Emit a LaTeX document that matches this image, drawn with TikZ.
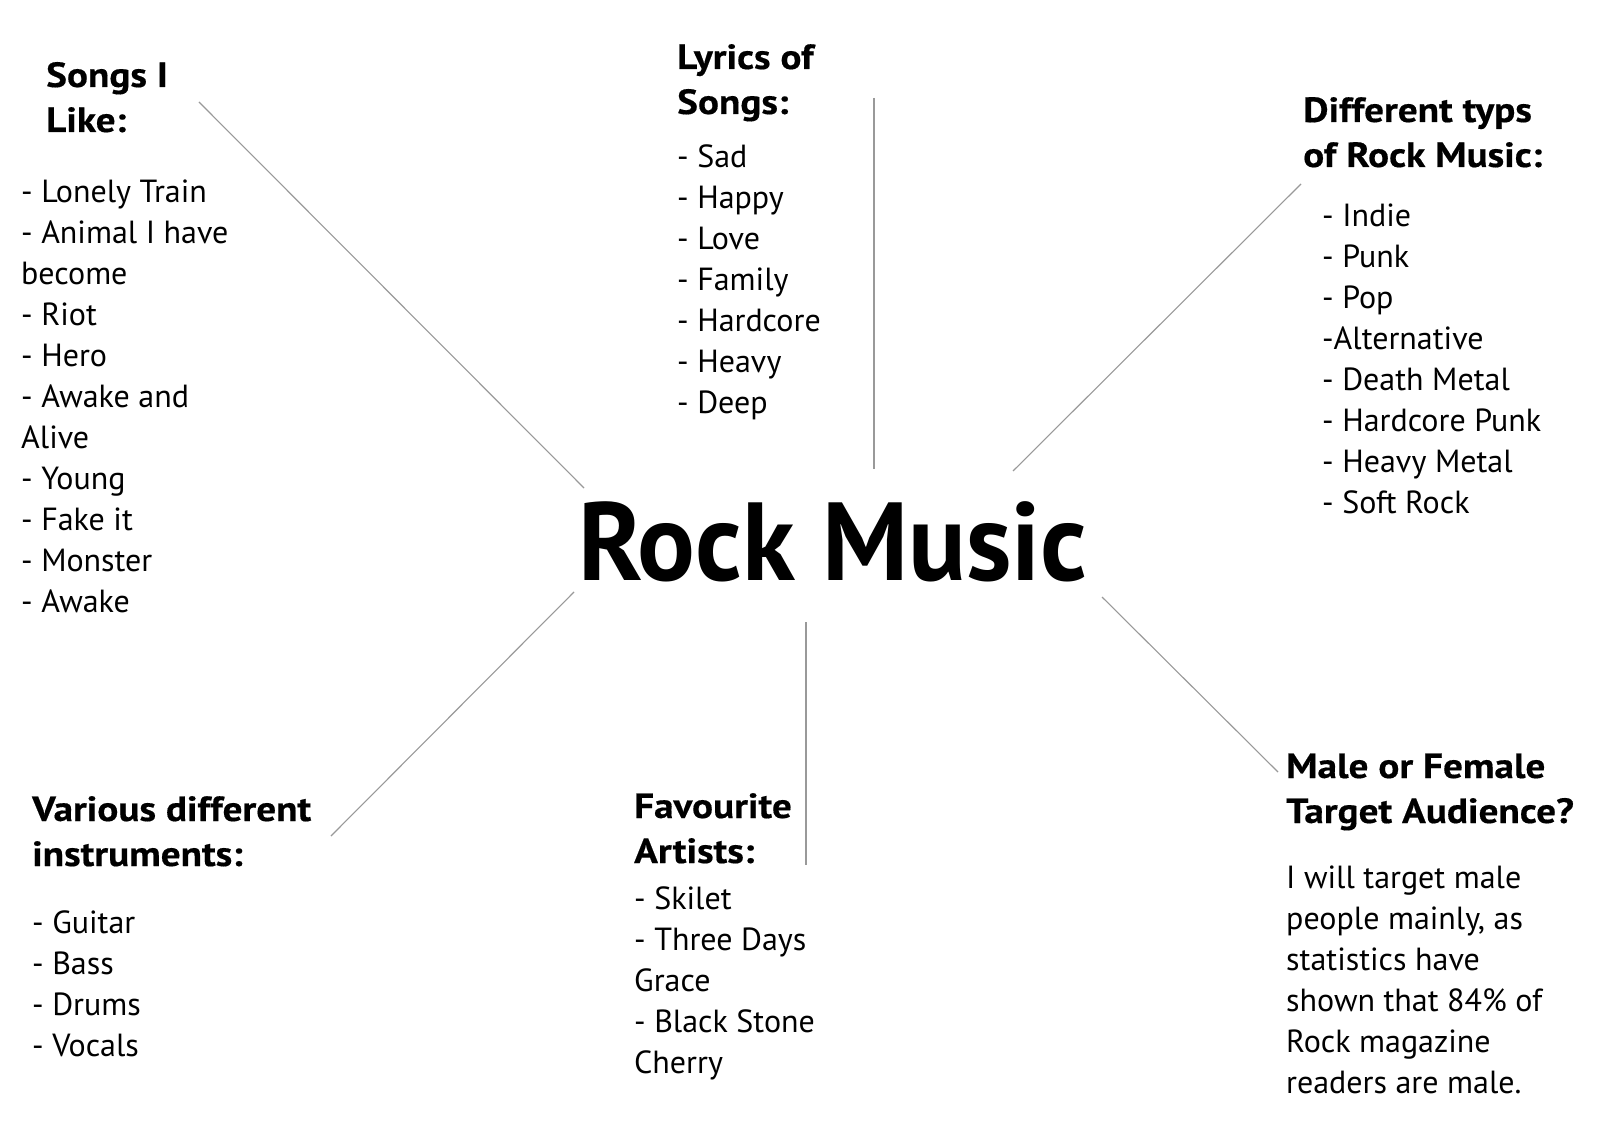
\documentclass[tikz,border=0pt]{standalone}
\usepackage{fontspec}
\setmainfont{PT Sans}
\newfontfamily\headfont[FakeStretch=1.12,FakeBold=0.4]{PT Sans Bold}
\newfontfamily\titlefont[FakeStretch=0.97]{PT Sans Bold}
\begin{document}
\begin{tikzpicture}[x=1pt,y=-1pt,
  body/.style={inner sep=0pt,anchor=base west,font=\fontsize{32}{41}\selectfont},
  head/.style={inner sep=0pt,anchor=base west,font=\headfont\fontsize{35}{45}\selectfont},
  title/.style={inner sep=0pt,anchor=base west,font=\titlefont\fontsize{111}{120}\selectfont},
  spoke/.style={draw=black!40,line width=1.1pt}]
\useasboundingbox[fill=white] (0,0) rectangle (1600,1131);
\newcommand{\blk}[1]{\begin{tabular}[t]{@{}l@{}}#1\end{tabular}}
% centre
\node[title] (rock) at (578,580) {Rock Music};
% Songs I like
\node[head] (songsH) at (46,87) {\blk{Songs I\\Like:}};
\node[body] (songsL) at (21,203) {\blk{- Lonely Train\\- Animal I have\\become\\- Riot\\- Hero\\- Awake and\\Alive\\- Young\\- Fake it\\- Monster\\- Awake}};
% Lyrics
\node[head] (lyrH) at (677,69) {\blk{Lyrics of\\Songs:}};
\node[body] (lyrL) at (677,168) {\blk{- Sad\\- Happy\\- Love\\- Family\\- Hardcore\\- Heavy\\- Deep}};
% Types
\node[head] (typH) at (1303,122) {\blk{Different typs\\of Rock Music:}};
\node[body] (typL) at (1322,227) {\blk{- Indie\\- Punk\\- Pop\\-Alternative\\- Death Metal\\- Hardcore Punk\\- Heavy Metal\\- Soft Rock}};
% Instruments
\node[head] (insH) at (32,821) {\blk{Various different\\instruments:}};
\node[body] (insL) at (32,933) {\blk{- Guitar\\- Bass\\- Drums\\- Vocals}};
% Favourite
\node[head] (favH) at (634,818) {\blk{Favourite\\Artists:}};
\node[body] (favL) at (634,909) {\blk{- Skilet\\- Three Days\\Grace\\- Black Stone\\Cherry}};
% Male / Female
\node[head] (malH) at (1286,778) {\blk{Male or Female\\Target Audience?}};
\node[body] (malL) at (1286,888) {\blk{I will target male\\people mainly, as\\statistics have\\shown that 84\% of\\Rock magazine\\readers are male.}};
% spokes
\coordinate (a1) at (199,102);  \coordinate (a2) at (584,488);
\coordinate (b1) at (874,98);   \coordinate (b2) at (874,469);
\coordinate (c1) at (1301,184); \coordinate (c2) at (1013,471);
\coordinate (d1) at (1102,597); \coordinate (d2) at (1278,772);
\coordinate (e1) at (806,622);  \coordinate (e2) at (806,865);
\coordinate (f1) at (574,592);  \coordinate (f2) at (331,836);
\draw[spoke] (a1) -- (a2);
\draw[spoke] (b1) -- (b2);
\draw[spoke] (c1) -- (c2);
\draw[spoke] (d1) -- (d2);
\draw[spoke] (e1) -- (e2);
\draw[spoke] (f1) -- (f2);
\end{tikzpicture}
\end{document}
